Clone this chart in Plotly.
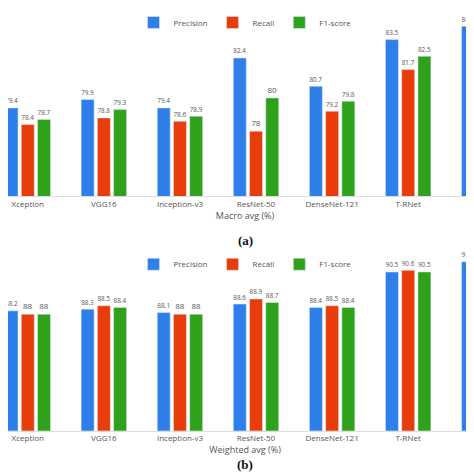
import plotly.graph_objects as go

models = ["Xception", "VGG16", "Inception-v3", "ResNet-50", "DenseNet-121", "T-RNet", "T-RNet+"]
macro_precision = [79.4, 79.9, 79.4, 82.4, 80.7, 83.5, 84.3]
macro_recall = [78.4, 78.8, 78.6, 78.0, 79.2, 81.7, 83.2]
macro_f1 = [78.7, 79.3, 78.9, 80.0, 79.8, 82.5, 83.7]
weighted_precision = [88.2, 88.3, 88.1, 88.6, 88.4, 90.5, 91.1]
weighted_recall = [88.0, 88.5, 88.0, 88.9, 88.5, 90.6, 91.1]
weighted_f1 = [88.0, 88.4, 88.0, 88.7, 88.4, 90.5, 91.0]

names = ["Precision", "Recall", "F1-score"]
colors = ["#2f7fea", "#e83c0a", "#2ea21a"]
tf = dict(family="Open Sans", size=8, color="#555")

fig = go.Figure()
for vals, nm, c in zip([macro_precision, macro_recall, macro_f1], names, colors):
    fig.add_trace(go.Bar(x=models, y=vals, name=nm, marker_color=c, texttemplate="%{y}",
                         textposition="outside", textfont=tf, cliponaxis=False,
                         xaxis="x", yaxis="y", legend="legend"))
for vals, nm, c in zip([weighted_precision, weighted_recall, weighted_f1], names, colors):
    fig.add_trace(go.Bar(x=models, y=vals, name=nm, marker_color=c, texttemplate="%{y}",
                         textposition="outside", textfont=tf, cliponaxis=False,
                         xaxis="x2", yaxis="y2", legend="legend2"))

ax = dict(range=[-0.26, 5.97], showline=True, linecolor="#ddd", ticks="",
          tickfont=dict(family="Open Sans", size=8, color="#555"))
leg = dict(orientation="h", x=0.5, xanchor="center", yanchor="top", itemwidth=30,
           font=dict(size=8, color="#555"), bgcolor="rgba(0,0,0,0)")
fig.update_layout(
    width=474, height=474, margin=dict(l=0, r=0, t=0, b=0),
    paper_bgcolor="white", plot_bgcolor="white",
    barmode="group", bargap=0.36, bargroupgap=0.2,
    font=dict(family="Open Sans", size=8, color="#555"),
    xaxis=dict(**ax, anchor="y", title=dict(text="Macro avg (%)", standoff=2,
               font=dict(size=9, color="#555"))),
    yaxis=dict(domain=[0.603, 0.979], range=[74.1, 84.8], visible=False),
    xaxis2=dict(**ax, anchor="y2", title=dict(text="Weighted avg (%)", standoff=2,
                font=dict(size=9, color="#555"))),
    yaxis2=dict(domain=[0.108, 0.468], range=[81.1, 91.2], visible=False),
    legend=dict(**leg, y=1.0),
    legend2=dict(**leg, y=0.49),
    annotations=[
        dict(text="<b>(a)</b>", x=0.5, y=1 - 232 / 474, xref="paper", yref="paper",
             showarrow=False, font=dict(family="Liberation Serif", size=13, color="#111")),
        dict(text="<b>(b)</b>", x=0.5, y=1 - 466 / 474, xref="paper", yref="paper",
             showarrow=False, font=dict(family="Liberation Serif", size=13, color="#111")),
    ],
)
fig.write_html("out.html")
